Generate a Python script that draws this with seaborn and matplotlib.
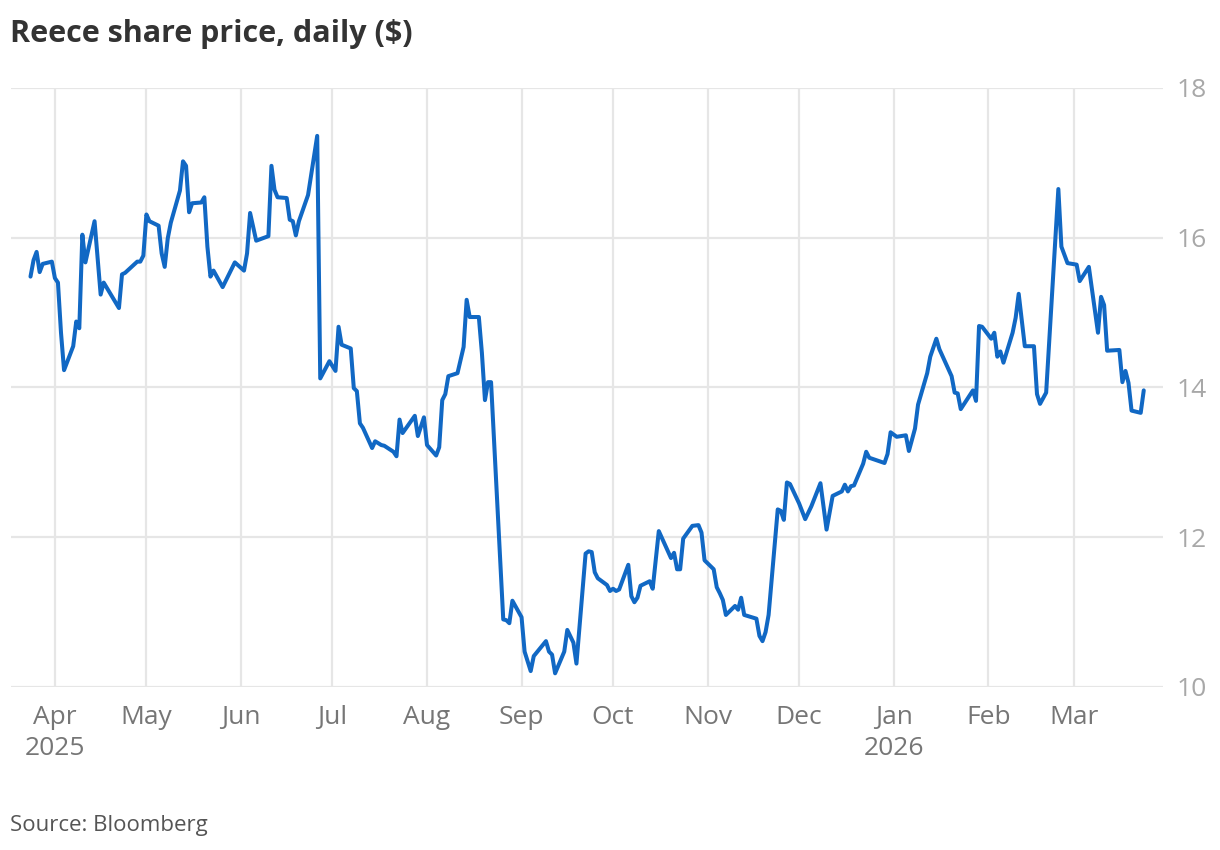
import pandas as pd
import numpy as np
import seaborn as sns
import matplotlib.pyplot as plt
import matplotlib.dates as mdates

# values (turning points of the daily line)
dates = [
    "2025-03-24", "2025-03-25", "2025-03-26", "2025-03-27", "2025-03-28", "2025-03-31",
    "2025-04-01", "2025-04-02", "2025-04-03", "2025-04-04", "2025-04-07", "2025-04-08",
    "2025-04-09", "2025-04-10", "2025-04-11", "2025-04-14", "2025-04-16", "2025-04-17",
    "2025-04-22", "2025-04-23", "2025-04-24", "2025-04-28", "2025-04-29", "2025-04-30",
    "2025-05-01", "2025-05-02", "2025-05-05", "2025-05-06", "2025-05-07", "2025-05-08",
    "2025-05-09", "2025-05-12", "2025-05-13", "2025-05-14", "2025-05-15", "2025-05-16",
    "2025-05-19", "2025-05-20", "2025-05-21", "2025-05-22", "2025-05-23", "2025-05-26",
    "2025-05-30", "2025-06-02", "2025-06-03", "2025-06-04", "2025-06-06", "2025-06-10",
    "2025-06-11", "2025-06-12", "2025-06-13", "2025-06-16", "2025-06-17", "2025-06-18",
    "2025-06-19", "2025-06-20", "2025-06-23", "2025-06-26", "2025-06-27", "2025-06-30",
    "2025-07-02", "2025-07-03", "2025-07-04", "2025-07-07", "2025-07-08", "2025-07-09",
    "2025-07-10", "2025-07-11", "2025-07-14", "2025-07-15", "2025-07-17", "2025-07-18",
    "2025-07-21", "2025-07-22", "2025-07-23", "2025-07-24", "2025-07-28", "2025-07-29",
    "2025-07-31", "2025-08-01", "2025-08-04", "2025-08-05", "2025-08-06", "2025-08-07",
    "2025-08-08", "2025-08-11", "2025-08-13", "2025-08-14", "2025-08-15", "2025-08-18",
    "2025-08-19", "2025-08-20", "2025-08-21", "2025-08-22", "2025-08-26", "2025-08-27",
    "2025-08-28", "2025-08-29", "2025-09-01", "2025-09-02", "2025-09-04", "2025-09-05",
    "2025-09-09", "2025-09-10", "2025-09-11", "2025-09-12", "2025-09-15", "2025-09-16",
    "2025-09-18", "2025-09-19", "2025-09-22", "2025-09-23", "2025-09-24", "2025-09-25",
    "2025-09-26", "2025-09-29", "2025-09-30", "2025-10-01", "2025-10-02", "2025-10-03",
    "2025-10-06", "2025-10-07", "2025-10-08", "2025-10-09", "2025-10-10", "2025-10-13",
    "2025-10-14", "2025-10-16", "2025-10-20", "2025-10-21", "2025-10-22", "2025-10-23",
    "2025-10-24", "2025-10-27", "2025-10-29", "2025-10-30", "2025-10-31", "2025-11-03",
    "2025-11-04", "2025-11-05", "2025-11-06", "2025-11-07", "2025-11-10", "2025-11-11",
    "2025-11-12", "2025-11-13", "2025-11-17", "2025-11-18", "2025-11-19", "2025-11-20",
    "2025-11-21", "2025-11-24", "2025-11-25", "2025-11-26", "2025-11-27", "2025-11-28",
    "2025-12-01", "2025-12-03", "2025-12-05", "2025-12-08", "2025-12-10", "2025-12-12",
    "2025-12-15", "2025-12-16", "2025-12-17", "2025-12-18", "2025-12-19", "2025-12-22",
    "2025-12-23", "2025-12-24", "2025-12-29", "2025-12-30", "2025-12-31", "2026-01-02",
    "2026-01-05", "2026-01-06", "2026-01-08", "2026-01-09", "2026-01-12", "2026-01-13",
    "2026-01-15", "2026-01-16", "2026-01-20", "2026-01-21", "2026-01-22", "2026-01-23",
    "2026-01-27", "2026-01-28", "2026-01-29", "2026-01-30", "2026-02-02", "2026-02-03",
    "2026-02-04", "2026-02-05", "2026-02-06", "2026-02-09", "2026-02-10", "2026-02-11",
    "2026-02-13", "2026-02-16", "2026-02-17", "2026-02-18", "2026-02-20", "2026-02-24",
    "2026-02-25", "2026-02-27", "2026-03-02", "2026-03-03", "2026-03-06", "2026-03-09",
    "2026-03-10", "2026-03-11", "2026-03-12", "2026-03-16", "2026-03-17", "2026-03-18",
    "2026-03-19", "2026-03-20", "2026-03-23", "2026-03-24",
]
prices = [
    15.48, 15.70, 15.81, 15.54, 15.65, 15.68,
    15.46, 15.40, 14.73, 14.23, 14.55, 14.88,
    14.79, 16.04, 15.67, 16.22, 15.24, 15.40,
    15.06, 15.51, 15.53, 15.68, 15.68, 15.76,
    16.31, 16.22, 16.16, 15.79, 15.61, 15.99,
    16.20, 16.63, 17.02, 16.96, 16.34, 16.46,
    16.47, 16.54, 15.88, 15.48, 15.56, 15.34,
    15.67, 15.56, 15.79, 16.33, 15.96, 16.02,
    16.96, 16.64, 16.54, 16.53, 16.24, 16.22,
    16.03, 16.22, 16.57, 17.36, 14.12, 14.35,
    14.22, 14.81, 14.57, 14.52, 13.99, 13.95,
    13.52, 13.46, 13.19, 13.28, 13.23, 13.22,
    13.14, 13.08, 13.57, 13.39, 13.62, 13.35,
    13.60, 13.23, 13.09, 13.20, 13.83, 13.91,
    14.15, 14.19, 14.54, 15.17, 14.94, 14.94,
    14.46, 13.83, 14.07, 14.07, 10.90, 10.89,
    10.85, 11.15, 10.93, 10.47, 10.21, 10.41,
    10.61, 10.47, 10.43, 10.18, 10.47, 10.76,
    10.59, 10.31, 11.78, 11.81, 11.80, 11.53,
    11.45, 11.36, 11.28, 11.31, 11.28, 11.30,
    11.63, 11.21, 11.13, 11.19, 11.35, 11.41,
    11.31, 12.08, 11.72, 11.79, 11.57, 11.57,
    11.98, 12.15, 12.16, 12.06, 11.69, 11.57,
    11.33, 11.25, 11.16, 10.96, 11.08, 11.03,
    11.19, 10.96, 10.91, 10.68, 10.61, 10.73,
    10.96, 12.37, 12.35, 12.23, 12.73, 12.71,
    12.45, 12.24, 12.41, 12.72, 12.10, 12.55,
    12.61, 12.70, 12.61, 12.68, 12.69, 12.98,
    13.14, 13.06, 12.99, 13.11, 13.40, 13.34,
    13.36, 13.15, 13.45, 13.77, 14.19, 14.41,
    14.65, 14.51, 14.15, 13.93, 13.92, 13.71,
    13.96, 13.82, 14.82, 14.81, 14.65, 14.73,
    14.41, 14.48, 14.33, 14.73, 14.93, 15.25,
    14.55, 14.55, 13.91, 13.78, 13.93, 16.65,
    15.88, 15.66, 15.64, 15.42, 15.61, 14.73,
    15.21, 15.10, 14.49, 14.50, 14.07, 14.22,
    14.06, 13.69, 13.66, 13.96,
]
month_ticks = ["2025-04-01", "2025-05-01", "2025-06-01", "2025-07-01", "2025-08-01",
               "2025-09-01", "2025-10-01", "2025-11-01", "2025-12-01", "2026-01-01",
               "2026-02-01", "2026-03-01"]
month_labels = ["Apr\n2025", "May", "Jun", "Jul", "Aug", "Sep", "Oct", "Nov", "Dec",
                "Jan\n2026", "Feb", "Mar"]
y_ticks = [10, 12, 14, 16, 18]

df = pd.DataFrame({"date": pd.to_datetime(dates), "price": prices})

sns.set_style("white")
plt.rcParams['font.family'] = ['Open Sans', 'DejaVu Sans']

fig = plt.figure(figsize=(12.2, 8.5), dpi=100)
ax = fig.add_axes([0.009, 0.192, 0.944, 0.7045])

sns.lineplot(data=df, x="date", y="price", ax=ax, color="#1168c4", linewidth=2.9)

ax.set_xlim(pd.Timestamp("2025-04-01") - pd.Timedelta(days=14.4),
            pd.Timestamp("2025-04-01") + pd.Timedelta(days=363.2))
ax.set_ylim(10, 18)

ax.set_xticks(pd.to_datetime(month_ticks))
ax.set_xticklabels(month_labels, fontsize=19, color="#767676", linespacing=1.32)
ax.set_yticks(y_ticks)
ax.set_yticklabels([str(v) for v in y_ticks], fontsize=19, color="#a8a8a8")
ax.yaxis.tick_right()
ax.tick_params(axis="both", length=0)
ax.tick_params(axis="x", pad=13)
ax.tick_params(axis="y", pad=10)

ax.grid(True, color="#e6e6e6", linewidth=1.6)
ax.set_axisbelow(True)
for s in ax.spines.values():
    s.set_visible(False)
ax.set_xlabel("")
ax.set_ylabel("")

fig.text(0.008, 0.960, "Reece share price, daily ($)", fontsize=22, fontweight="bold",
         color="#333333", va="center", ha="left")
fig.text(0.008, 0.029, "Source: Bloomberg", fontsize=16, color="#555555",
         va="center", ha="left")

plt.savefig("out.png", dpi=100)
